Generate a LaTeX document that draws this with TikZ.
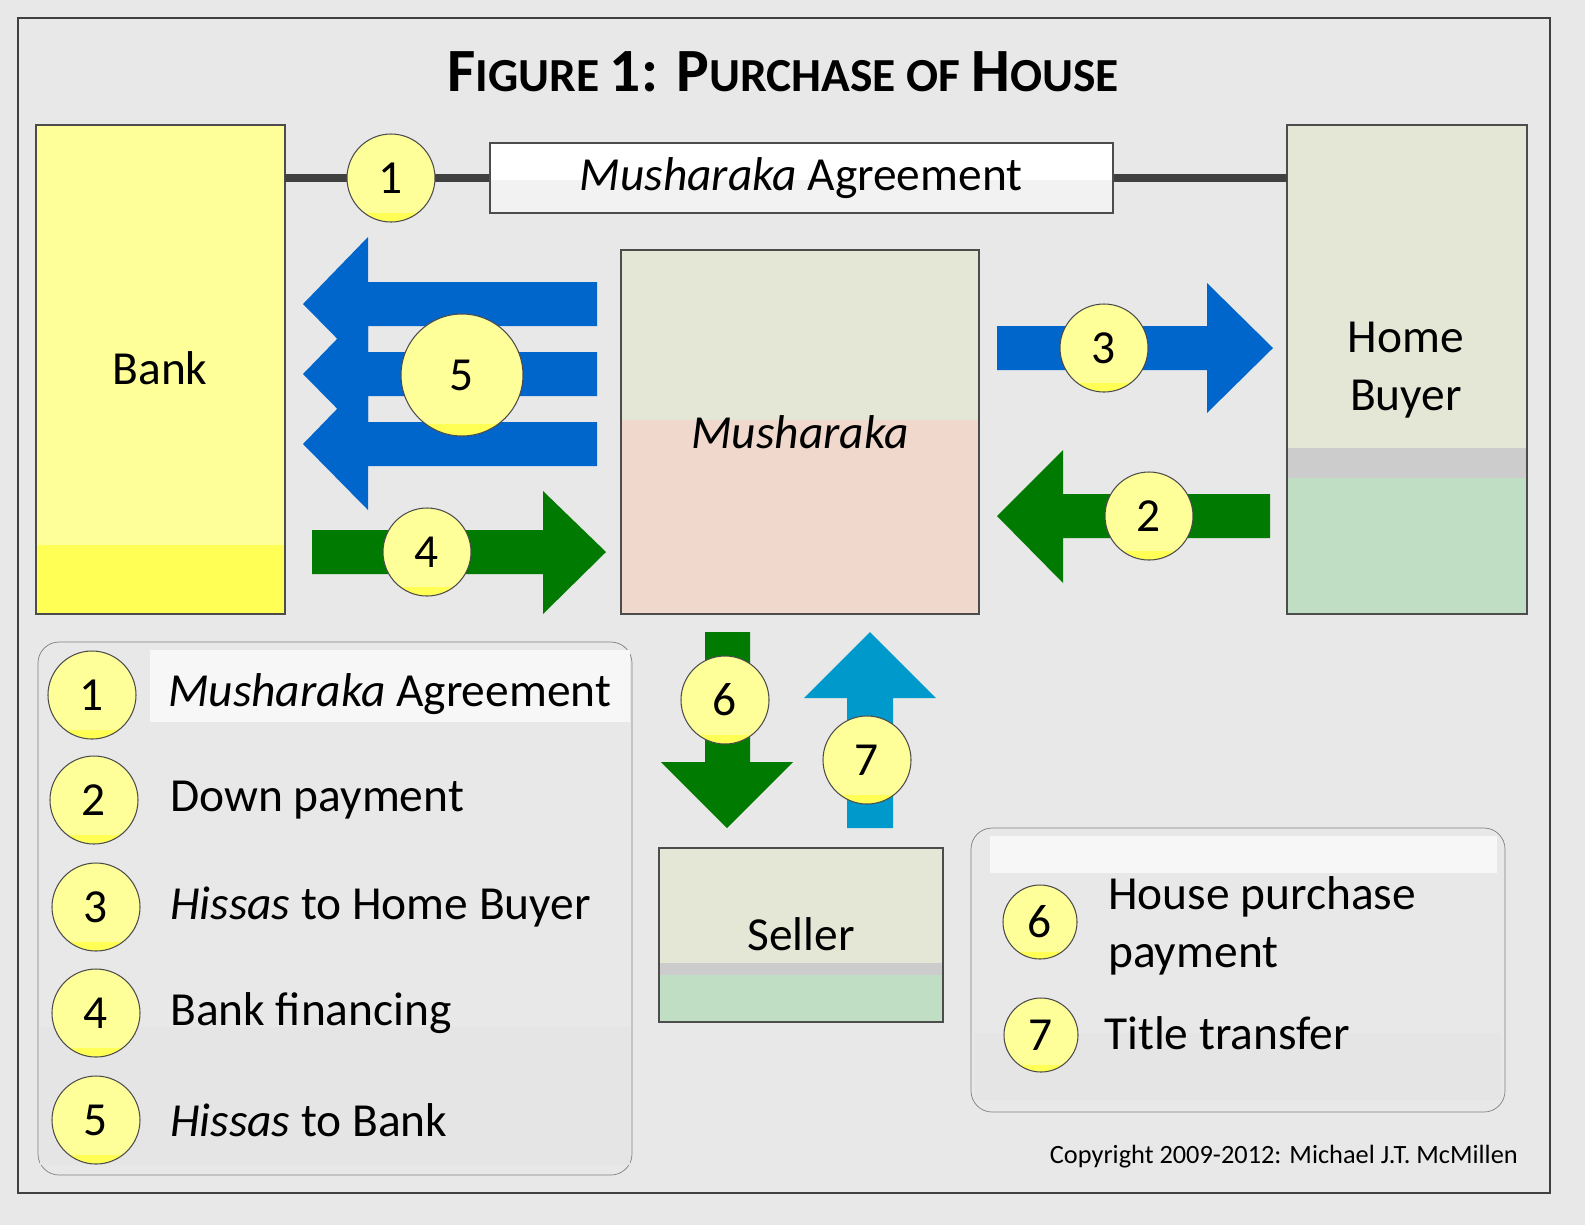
\documentclass[tikz,border=0pt]{standalone}
\usepackage{fontspec}
\setmainfont{Carlito}
\definecolor{bg}{HTML}{E8E8E8}
\definecolor{yel}{HTML}{FFFF99}
\definecolor{yelb}{HTML}{FFFF55}
\definecolor{grn}{HTML}{C0DEC4}
\definecolor{beige}{HTML}{E4E6D6}
\definecolor{pink}{HTML}{F0D8CC}
\definecolor{blu}{HTML}{0066CC}
\definecolor{blu2}{HTML}{0099CC}
\definecolor{grnA}{HTML}{007A00}
\tikzset{
 txt/.style={font=\fontsize{27}{33}\selectfont},
 outl/.style={draw=black!70,line width=0.6pt},
}
\newcommand{\numc}[5]{%
 \begin{scope}
 \clip (#2,#3) circle (#4);
 \fill[yel] (#2,#3) circle (#4);
 \fill[yelb] (#2-#4,#3+0.8*#4) rectangle (#2+#4,#3+#4);
 \end{scope}
 \draw[black!70,line width=0.6pt] (#2,#3) circle (#4);
 \node[txt] (#1) at (#2,#3) {#5};}
\begin{document}
\begin{tikzpicture}[x=0.02cm,y=-0.02cm]
\useasboundingbox (0,0) rectangle (1585,1225);
\fill[bg] (0,0) rectangle (1585,1225);
\draw[black!75,line width=1.5pt] (18,18) rectangle (1550,1193);
\node[font=\fontsize{35}{40}\selectfont\bfseries] (title) at (783,72) {F\fontsize{27}{32}\selectfont IGURE \fontsize{35}{40}\selectfont1: P\fontsize{27}{32}\selectfont URCHASE OF \fontsize{35}{40}\selectfont H\fontsize{27}{32}\selectfont OUSE};
% Bank
\fill[yel] (36,125) rectangle (285,545);
\fill[yelb] (36,545) rectangle (285,614);
\draw[outl] (36,125) rectangle (285,614);
\node[txt] (bank) at (160,368) {Bank};
% Home buyer
\fill[beige] (1287,125) rectangle (1527,448);
\fill[black!20] (1287,448) rectangle (1527,478);
\fill[grn] (1287,478) rectangle (1527,614);
\draw[outl] (1287,125) rectangle (1527,614);
\node[txt,align=center] (hb) at (1406,370) {Home\\Buyer};
% Musharaka
\fill[beige] (621,250) rectangle (979,420);
\fill[pink] (621,420) rectangle (979,614);
\draw[outl] (621,250) rectangle (979,614);
\node[txt] (mush) at (800,432) {\itshape Musharaka};
% Seller
\fill[beige] (659,848) rectangle (943,963);
\fill[black!20] (659,963) rectangle (943,975);
\fill[grn] (659,975) rectangle (943,1022);
\draw[outl] (659,848) rectangle (943,1022);
\node[txt] (seller) at (801,934) {Seller};
% agreement
\draw[black!75,line width=4.5pt] (285,178) -- (1287,178);
\fill[white] (490,143) rectangle (1113,180);
\fill[black!5] (490,180) rectangle (1113,213);
\draw[outl] (490,143) rectangle (1113,213);
\node[txt] (agr) at (801,178) {\itshape Musharaka\upshape\ Agreement};
\numc{c1}{391}{178}{44}{1}
% arrows 5
\foreach \t in {0,70,140}{
 \fill[blu] (597,282+\t) -- (368,282+\t) -- (368,237+\t) -- (303,304+\t) -- (368,370+\t) -- (368,326+\t) -- (597,326+\t) -- cycle;
}
\numc{c5}{462}{375}{61}{5}
% arrow 3
\fill[blu] (997,326) -- (1207,326) -- (1207,283) -- (1273,348) -- (1207,413) -- (1207,370) -- (997,370) -- cycle;
\numc{c3}{1104}{348}{44}{3}
% arrow 2
\fill[grnA] (1270,494) -- (1063,494) -- (1063,450) -- (997,516) -- (1063,583) -- (1063,538) -- (1270,538) -- cycle;
\numc{c2}{1149}{516}{44}{2}
% arrow 4
\fill[grnA] (312,530) -- (543,530) -- (543,491) -- (606,552) -- (543,614) -- (543,574) -- (312,574) -- cycle;
\numc{c4}{427}{552}{44}{4}
% arrow 6
\fill[grnA] (705,632) -- (750,632) -- (750,762) -- (793,762) -- (727,828) -- (661,762) -- (705,762) -- cycle;
\numc{c6}{725}{700}{44}{6}
% arrow 7
\fill[blu2] (847,828) -- (893,828) -- (893,698) -- (936,698) -- (870,632) -- (804,698) -- (847,698) -- cycle;
\numc{c7}{867}{760}{44}{7}
% legend left
\draw[black!50,fill=bg,rounded corners=12pt] (38,642) rectangle (632,1175);
\fill[black!3] (150,650) rectangle (630,722);
\fill[black!10] (40,1027) rectangle (630,1165);
\numc{l1}{92}{695}{44}{1}
\numc{l2}{94}{800}{44}{2}
\numc{l3}{96}{907}{44}{3}
\numc{l4}{96}{1013}{44}{4}
\numc{l5}{96}{1120}{44}{5}
\node[txt,anchor=west] (t1) at (162,694) {\itshape Musharaka\upshape\ Agreement};
\node[txt,anchor=west] (t2) at (164,800) {Down payment};
\node[txt,anchor=west] (t3) at (164,907) {\itshape Hissas\upshape\ to Home Buyer};
\node[txt,anchor=west] (t4) at (164,1013) {Bank financing};
\node[txt,anchor=west] (t5) at (164,1120) {\itshape Hissas\upshape\ to Bank};
% legend right
\draw[black!50,fill=bg,rounded corners=12pt] (971,828) rectangle (1505,1112);
\fill[black!3] (990,836) rectangle (1497,873);
\fill[black!10] (975,1033) rectangle (1501,1100);
\numc{r6}{1040}{922}{37}{6}
\numc{r7}{1041}{1035}{37}{7}
\node[txt,anchor=west,align=left] (t6) at (1102,926) {House purchase\\payment};
\node[txt,anchor=west] (t7) at (1098,1033) {Title transfer};
\node[font=\fontsize{15}{18}\selectfont,anchor=east] (copy) at (1524,1157) {Copyright 2009-2012: Michael J.T. McMillen};
\end{tikzpicture}
\end{document}
